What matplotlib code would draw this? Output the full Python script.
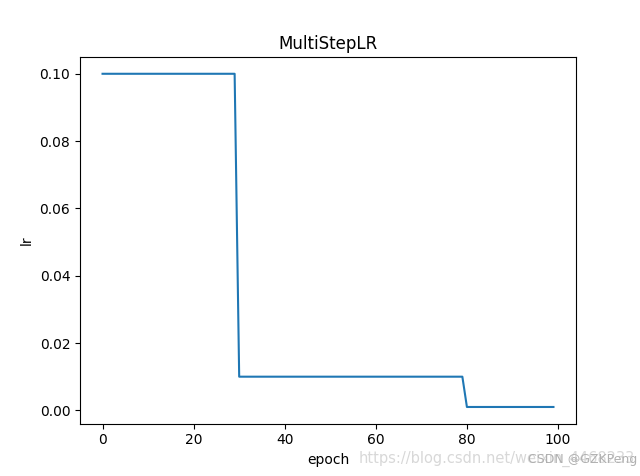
import matplotlib
matplotlib.use('Agg')
import matplotlib.pyplot as plt

# corner points of the MultiStepLR schedule (milestones 30, 80, gamma 0.1)
epochs = [0, 29, 30, 79, 80, 99]
lrs = [0.1, 0.1, 0.01, 0.01, 0.001, 0.001]

fig = plt.figure(figsize=(6.4, 4.76), dpi=100)
plt.plot(epochs, lrs)
plt.title('MultiStepLR')
plt.xlabel('epoch')
plt.ylabel('lr')

# watermark at the bottom right
fig.text(0.56, 0.018, 'https://blog.csdn.net/weixin_4468233', color='#d8d8d8',
         fontsize=10.5, ha='left', va='bottom')
fig.text(0.825, 0.02, 'CSDN @GZKPeng', color='#b0b0b0', fontsize=9,
         ha='left', va='bottom')

plt.savefig('out.png', dpi=100)
